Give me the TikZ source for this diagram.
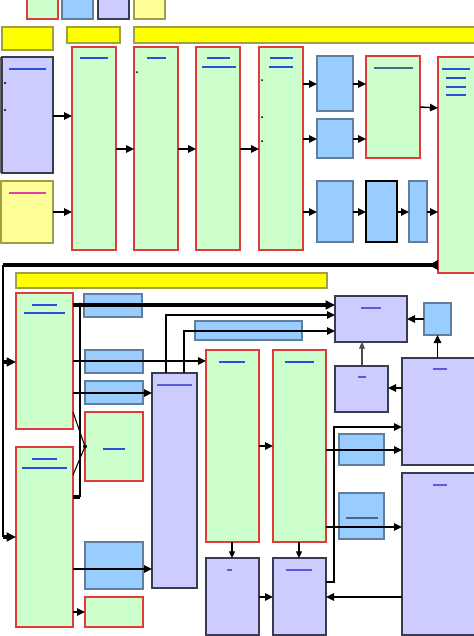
\documentclass[tikz,border=0pt]{standalone}
\usetikzlibrary{fit,arrows.meta}
\definecolor{gfill}{HTML}{CCFFCC}
\definecolor{gline}{HTML}{E03A3A}
\definecolor{bfill}{HTML}{99CCFF}
\definecolor{bline}{HTML}{5F7F9F}
\definecolor{lfill}{HTML}{CCCCFF}
\definecolor{lline}{HTML}{3A3A50}
\definecolor{yfill}{HTML}{FFFF00}
\definecolor{yline}{HTML}{A0A040}
\definecolor{lyfill}{HTML}{FFFF99}
\definecolor{ulblue}{HTML}{2850D8}
\definecolor{ullav}{HTML}{5A5AE0}
\definecolor{ulpink}{HTML}{E040A0}
\definecolor{ulgrey}{HTML}{4A6A8A}
\begin{document}
\begin{tikzpicture}[x=0.75pt,y=-0.75pt,
  box/.style={inner sep=0pt,outer sep=0pt,line width=0.8pt},
  gbox/.style={box,fill=gfill,draw=gline},
  bbox/.style={box,fill=bfill,draw=bline},
  lbox/.style={box,fill=lfill,draw=lline,line width=0.9pt},
  ybox/.style={box,fill=yfill,draw=yline},
  lybox/.style={box,fill=lyfill,draw=yline},
  kbox/.style={box,fill=bfill,draw=black,line width=0.9pt},
  ul/.style={draw=ulblue,line width=0.8pt},
  conn/.style={line width=1.1pt,-{Triangle[length=6pt,width=5.5pt]}},
  plain/.style={line width=1.1pt},
  thin conn/.style={line width=0.8pt,-{Triangle[length=5pt,width=4.5pt]}},
  thick conn/.style={line width=2.3pt,-{Triangle[length=7pt,width=6.5pt]}},
  dot/.style={circle,fill=black,inner sep=0pt,minimum size=3.5pt}]
\useasboundingbox (0,0) rectangle (474,636);
% legend
\node[gbox,fit={(27,-1) (58,19)}] (lg1) {};
\node[bbox,fit={(62,-1) (93,19)}] (lg2) {};
\node[lbox,fit={(98,-1) (129,19)}] (lg3) {};
\node[lybox,fit={(134,-1) (165,19)}] (lg4) {};
% headers
\node[ybox,fit={(2,27) (53,50)}] (h1) {};
\node[ybox,fit={(67,27) (120,43)}] (h2) {};
\node[ybox,fit={(134,27) (478,43)}] (h3) {};
% top section
\fill[black!60] (0,57) rectangle (2.5,173);
\node[lbox,fit={(2,57) (53,173)}] (s1) {};
\node[lybox,fit={(1,181) (53,243)}] (s2) {};
\node[gbox,fit={(72,47) (116,250)}] (g1) {};
\node[gbox,fit={(134,47) (178,250)}] (g2) {};
\node[gbox,fit={(196,47) (240,250)}] (g3) {};
\node[gbox,fit={(259,47) (303,250)}] (g4) {};
\node[bbox,fit={(317,56) (353,111)}] (b1) {};
\node[bbox,fit={(317,119) (353,158)}] (b2) {};
\node[bbox,fit={(317,181) (353,242)}] (b3) {};
\node[gbox,fit={(366,56) (420,158)}] (g5) {};
\node[kbox,fit={(366,181) (397,242)}] (b4) {};
\node[bbox,fit={(409,181) (427,242)}] (b5) {};
\node[gbox,fit={(438,57) (478,273)}] (g6) {};
% top underlines and dots
\draw[ul] (9,69) -- (46,69);
\fill (5,83) circle (1.2);
\fill (5,110) circle (1.2);
\draw[draw=ulpink,line width=0.8pt] (9,193) -- (46,193);
\draw[ul] (80,58) -- (108,58);
\draw[ul] (147,58) -- (166,58);
\fill (137,72) circle (1);
\draw[ul] (207,58) -- (230,58);
\draw[ul] (202,67) -- (236,67);
\draw[ul] (270,58) -- (293,58);
\draw[ul] (269,67) -- (293,67);
\fill (262,80) circle (1);
\fill (262,117) circle (1);
\fill (262,141) circle (1);
\draw[draw=ulgrey,line width=0.9pt] (374,68) -- (413,68);
\draw[ul] (442,69) -- (470,69);
\draw[ul] (446,78) -- (466,78);
\draw[ul] (446,87) -- (466,87);
\draw[ul] (446,95) -- (466,95);
% top connectors
\draw[conn] (s1.east |- 0,116) -- (g1.west |- 0,116);
\draw[conn] (s2.east |- 0,212) -- (g1.west |- 0,212);
\draw[conn] (g1.east |- 0,149) -- (g2.west |- 0,149);
\draw[conn] (g2.east |- 0,149) -- (g3.west |- 0,149);
\draw[conn] (g3.east |- 0,149) -- (g4.west |- 0,149);
\draw[conn] (g4.east |- 0,84) -- (b1.west |- 0,84);
\draw[conn] (g4.east |- 0,139) -- (b2.west |- 0,139);
\draw[conn] (g4.east |- 0,212) -- (b3.west |- 0,212);
\draw[conn] (b1.east |- 0,84) -- (g5.west |- 0,84);
\draw[conn] (b2.east |- 0,139) -- (g5.west |- 0,139);
\draw[conn] (b3.east |- 0,212) -- (b4.west |- 0,212);
\draw[conn] (b4.east |- 0,212) -- (b5.west |- 0,212);
\draw[conn] (b5.east |- 0,212) -- (g6.west |- 0,212);
\draw[conn] (g5.east |- 0,107) -- (g6.west |- 0,108);
% bottom section
\node[ybox,fit={(16,273) (327,288)}] (ybar) {};
\node[gbox,fit={(16,293) (73,429)}] (A) {};
\node[gbox,fit={(16,447) (73,627)}] (A2) {};
\node[bbox,fit={(84,294) (142,317)}] (B1) {};
\node[bbox,fit={(85,350) (143,373)}] (B2) {};
\node[bbox,fit={(85,381) (143,404)}] (B3) {};
\node[gbox,fit={(85,412) (143,481)}] (G8) {};
\node[bbox,fit={(85,542) (143,589)}] (B7) {};
\node[gbox,fit={(85,597) (143,627)}] (G10) {};
\node[lbox,fit={(152,373) (197,588)}] (L1) {};
\node[bbox,fit={(195,321) (302,340)}] (B4) {};
\node[gbox,fit={(206,350) (259,542)}] (G7) {};
\node[gbox,fit={(273,350) (326,542)}] (G9) {};
\node[lbox,fit={(335,296) (407,342)}] (P) {};
\node[bbox,fit={(424,303) (451,335)}] (Bs) {};
\node[lbox,fit={(335,366) (388,412)}] (Q) {};
\node[lbox,fit={(402,358) (478,465)}] (R1) {};
\node[bbox,fit={(339,434) (384,465)}] (B5) {};
\node[bbox,fit={(339,493) (384,539)}] (B6) {};
\node[lbox,fit={(402,473) (478,635)}] (R2) {};
\node[lbox,fit={(206,558) (259,635)}] (L2) {};
\node[lbox,fit={(273,558) (326,635)}] (L3) {};
% bottom underlines
\draw[ul] (32,305) -- (57,305);
\draw[ul] (24,313) -- (65,313);
\draw[ul] (32,459) -- (57,459);
\draw[ul] (22,468) -- (67,468);
\draw[ul] (103,449) -- (125,449);
\draw[draw=ullav,line width=0.8pt] (157,385) -- (192,385);
\draw[ul] (219,362) -- (245,362);
\draw[ul] (285,362) -- (314,362);
\draw[draw=ullav,line width=0.8pt] (361,308) -- (381,308);
\draw[draw=ullav,line width=0.8pt] (358,377) -- (366,377);
\draw[draw=ullav,line width=0.8pt] (433,369) -- (447,369);
\draw[draw=ullav,line width=0.8pt] (433,485) -- (447,485);
\draw[draw=ullav,line width=0.8pt] (227,570) -- (232,570);
\draw[draw=ullav,line width=0.8pt] (286,570) -- (312,570);
\draw[draw=ulgrey,line width=0.8pt] (346,518) -- (378,518);
% big return line
\coordinate (lc) at (3,265);
\draw[line width=2.3pt,-{Triangle[length=7pt,width=7pt,reversed]}] (lc) -- (g6.west |- 0,265);
\draw[line width=2pt] (lc) -- (lc |- 0,537);
\draw[thick conn] (lc |- 0,362) -- (A.west |- 0,362);
\draw[thick conn] (lc |- 0,537) -- (A2.west |- 0,537);
% bus from A / A2 to P
\coordinate (j1) at (80,305);
\coordinate (j2) at (80,497);
\draw[thick conn] (A.east |- j1) -- (P.west |- j1);
\draw[line width=1.6pt] (j1) -- (j2);
\draw[line width=2.6pt] (A2.east |- j2) -- (j2);
\node[dot] (jd) at (j1) {};
% A and A2 to G8
\draw[line width=0.8pt] (A.east |- 0,412) -- (G8.west);
\draw[line width=0.8pt] (A2.east |- 0,475) -- (G8.west);
\node[dot,minimum size=3pt] (gd) at (G8.west) {};
% other bottom connectors
\draw[conn] (A.east |- 0,361) -- (G7.west |- 0,361);
\draw[conn] (A.east |- 0,393) -- (L1.west |- 0,393);
\draw[conn] (A2.east |- 0,569) -- (L1.west |- 0,569);
\draw[conn] (A2.east |- 0,612) -- (G10.west |- 0,612);
\draw[conn] (L1.north -| 166,0) -- (166,315) -- (P.west |- 0,315);
\draw[conn] (L1.north -| 184,0) -- (184,331) -- (P.west |- 0,331);
\draw[conn] (Bs.west |- 0,319) -- (P.east |- 0,319);
\draw[conn] (R1.north -| Bs.south) -- (Bs.south);
\draw[thin conn,draw=black!70] (Q.north -| 362,0) -- (P.south -| 362,0);
\draw[conn] (R1.west |- 0,388) -- (Q.east |- 0,388);
\draw[conn] (G7.east |- 0,446) -- (G9.west |- 0,446);
\draw[conn] (G9.east |- 0,450) -- (R1.west |- 0,450);
\draw[conn] (L3.east |- 0,582) -- (334,582) -- (334,427) -- (R1.west |- 0,427);
\draw[conn] (G9.east |- 0,527) -- (R2.west |- 0,527);
\draw[thin conn] (G7.south -| 232,0) -- (L2.north -| 232,0);
\draw[thin conn] (G9.south -| 299,0) -- (L3.north -| 299,0);
\draw[conn] (L2.east |- 0,597) -- (L3.west |- 0,597);
\draw[conn] (R2.west |- 0,597) -- (L3.east |- 0,597);
\end{tikzpicture}
\end{document}
